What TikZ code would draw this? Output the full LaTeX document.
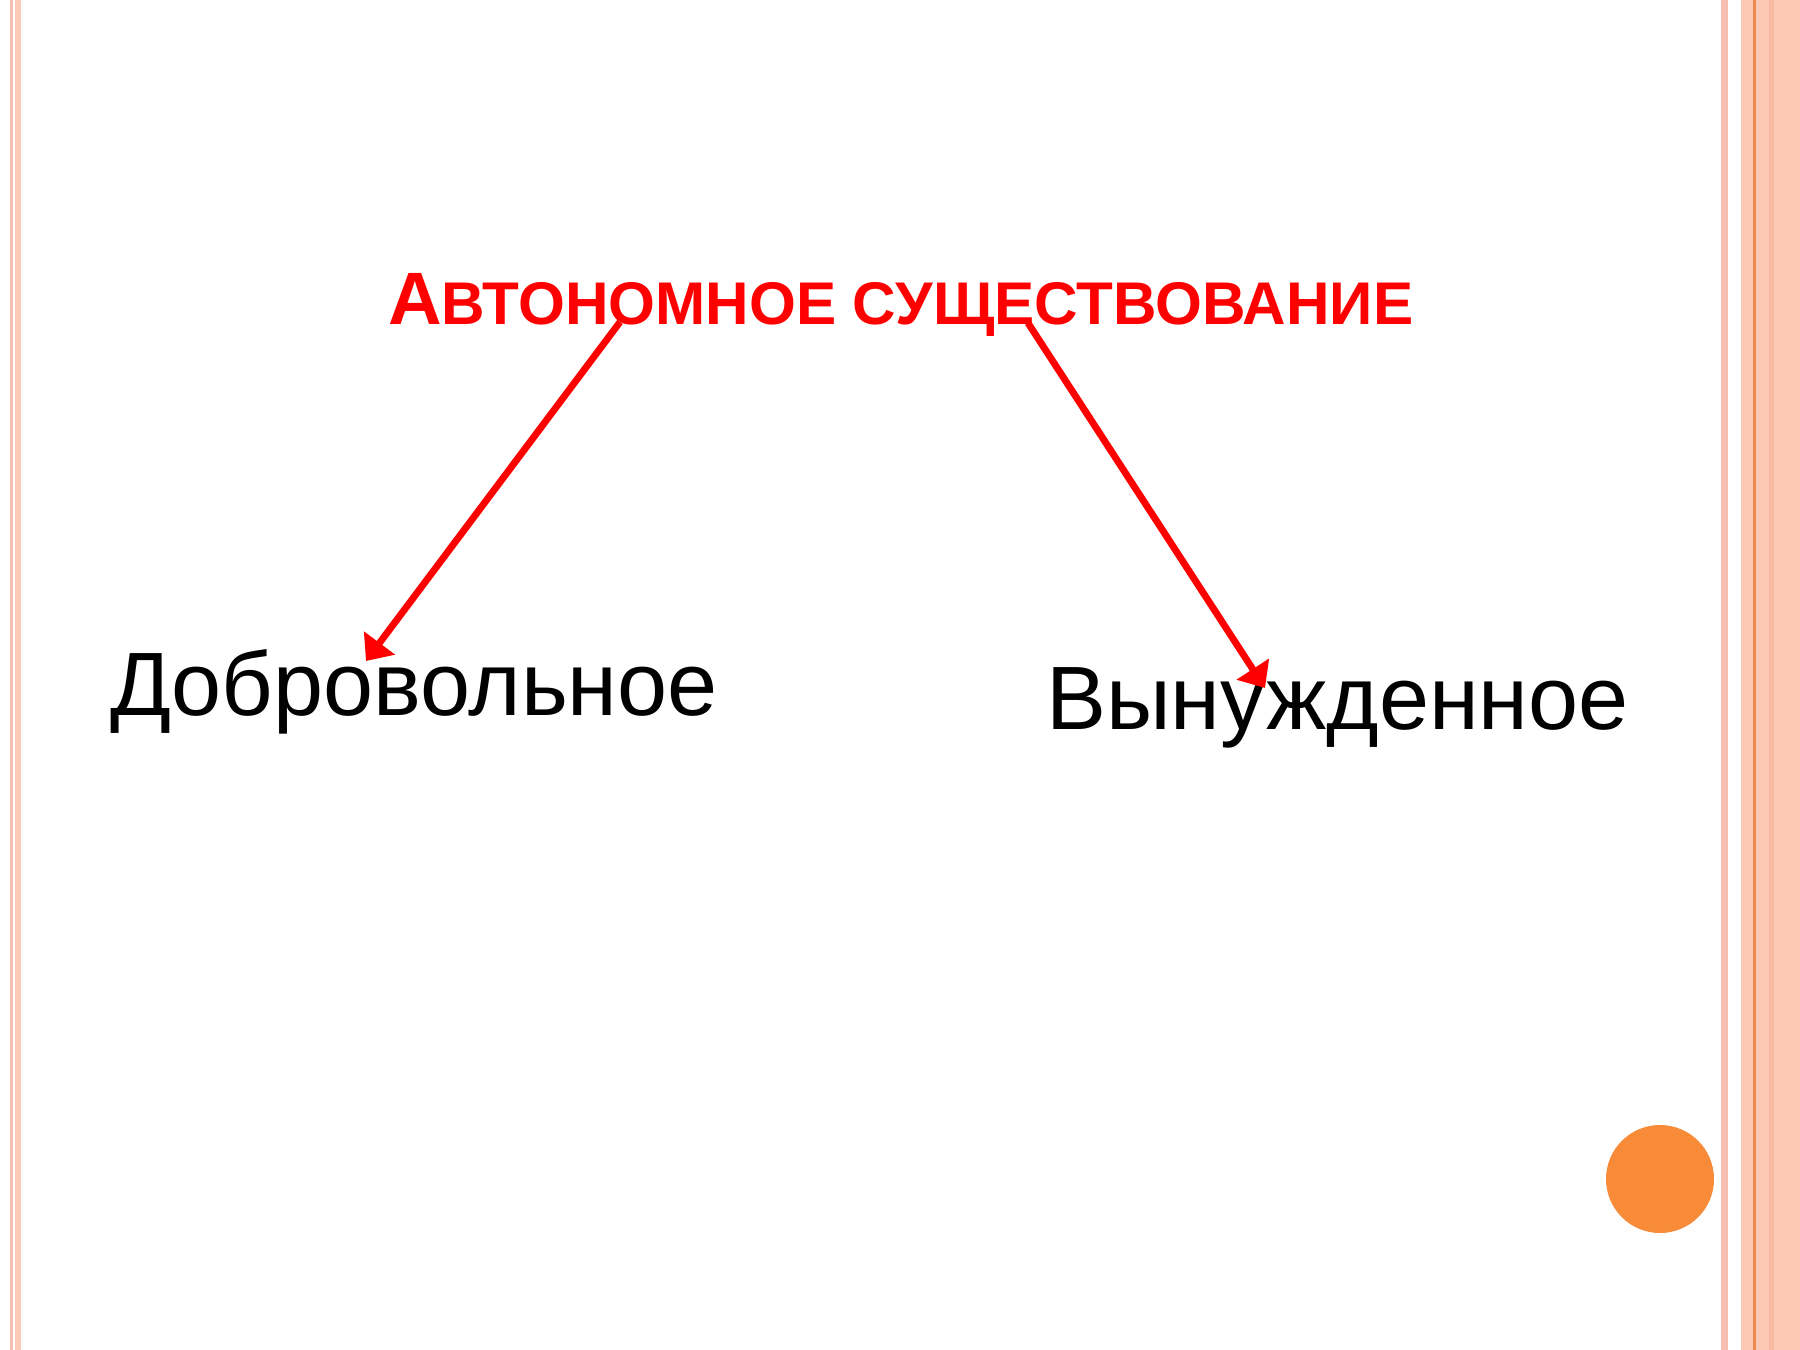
\documentclass[tikz,border=0pt]{standalone}
\usepackage{fontspec}
\setmainfont{Liberation Sans}
\usetikzlibrary{arrows.meta}
\definecolor{salmon}{RGB}{252,201,180}
\definecolor{pinkline}{RGB}{248,190,175}
\definecolor{orangeline}{RGB}{238,138,80}
\definecolor{darksalmon}{RGB}{249,186,162}
\definecolor{dotorange}{RGB}{247,139,56}
\definecolor{titlered}{RGB}{255,0,0}
\tikzset{
  txt/.style={inner sep=0pt, outer sep=0pt, anchor=base west},
  redarrow/.style={draw=titlered, line width=2.75pt, -{Triangle[length=9pt,width=15pt]}},
  band/.style={fill=#1, draw=none}
}
\begin{document}
\begin{tikzpicture}[x=0.4pt,y=-0.4pt]
\useasboundingbox (0,0) rectangle (1800,1350);
\fill[white] (0,0) rectangle (1800,1350);
% left border
\fill[pinkline] (10,0) rectangle (12.5,1350);
\fill[salmon] (15,0) rectangle (21,1350);
% right border
\fill[pinkline] (1721,0) rectangle (1728,1350);
\fill[salmon] (1741,0) rectangle (1800,1350);
\fill[orangeline] (1753,0) rectangle (1756,1350);
\fill[darksalmon] (1769,0) rectangle (1774,1350);
% orange dot
\fill[dotorange] (1660,1179) circle (54);
% title
\node[txt, text=titlered, font=\bfseries] (title) at (388,325)
  {{\fontsize{29.7}{34}\selectfont А}{\fontsize{24.1}{28}\selectfont ВТОНОМНОЕ СУЩЕСТВОВАНИЕ}};
% options
\node[txt, font=\fontsize{36}{43}\selectfont] (vol) at (110,716) {Добровольное};
\node[txt, font=\fontsize{36}{43}\selectfont] (forced) at (1046,730) {Вынужденное};
% arrows
\coordinate (s1) at (620,322);
\coordinate (e1) at (366,661);
\coordinate (s2) at (1028,323);
\coordinate (e2) at (1265,688);
\draw[redarrow] (s1) -- (e1);
\draw[redarrow] (s2) -- (e2);
\end{tikzpicture}
\end{document}
